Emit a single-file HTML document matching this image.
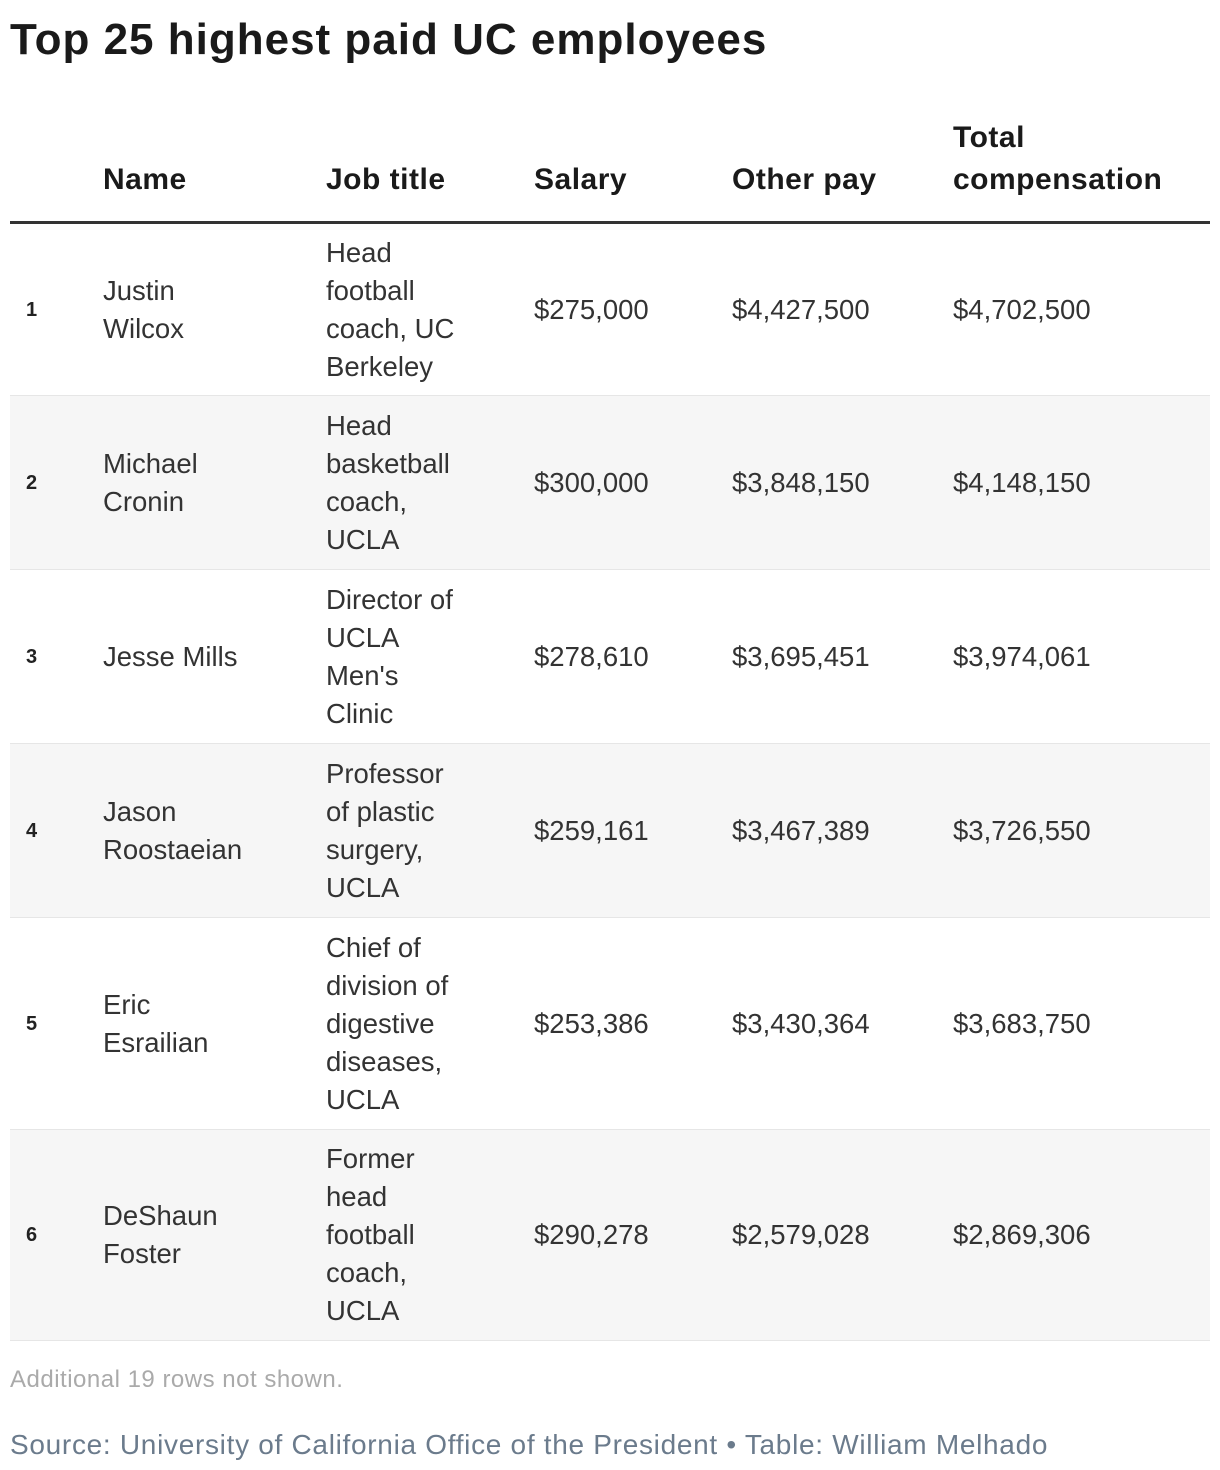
<!DOCTYPE html>
<html><head><meta charset="utf-8"><style>
body{margin:0;background:#fff;width:1220px;height:1470px;overflow:hidden;font-family:"Liberation Sans",sans-serif;color:#222;}
h1{position:absolute;left:10px;top:15px;margin:0;font-size:44px;font-weight:bold;color:#1a1a1a;letter-spacing:1px}
table{position:absolute;left:10px;top:117px;width:1200px;border-collapse:collapse;table-layout:fixed}
th{font-size:30px;font-weight:bold;text-align:left;vertical-align:bottom;padding:0 0 20px 0;line-height:42px;color:#1a1a1a;border-bottom:3px solid #333;height:68px;letter-spacing:0.5px}
td{font-size:27.5px;line-height:38px;vertical-align:middle;padding:0;color:#333;border-bottom:1px solid #e6e6e6}
td.r{font-weight:bold;font-size:20px;padding-left:16px;color:#222}
tr.g td{background:#f6f6f6}
.f1{position:absolute;left:10px;top:1366px;font-size:24px;color:#aaa;letter-spacing:0.5px}
.f2{position:absolute;left:10px;top:1429px;font-size:28px;color:#6b7b8c;letter-spacing:0.7px}
</style></head><body>
<h1>Top 25 highest paid UC employees</h1>
<table>
<colgroup><col style="width:93px"><col style="width:223px"><col style="width:208px"><col style="width:198px"><col style="width:221px"><col style="width:257px"></colgroup>
<tr><th></th><th>Name</th><th>Job title</th><th>Salary</th><th>Other pay</th><th>Total<br>compensation</th></tr>
<tr style="height:173px"><td class="r">1</td><td>Justin<br>Wilcox</td><td>Head<br>football<br>coach, UC<br>Berkeley</td><td>$275,000</td><td>$4,427,500</td><td>$4,702,500</td></tr>
<tr class="g" style="height:174px"><td class="r">2</td><td>Michael<br>Cronin</td><td>Head<br>basketball<br>coach,<br>UCLA</td><td>$300,000</td><td>$3,848,150</td><td>$4,148,150</td></tr>
<tr style="height:174px"><td class="r">3</td><td>Jesse Mills</td><td>Director of<br>UCLA<br>Men's<br>Clinic</td><td>$278,610</td><td>$3,695,451</td><td>$3,974,061</td></tr>
<tr class="g" style="height:174px"><td class="r">4</td><td>Jason<br>Roostaeian</td><td>Professor<br>of plastic<br>surgery,<br>UCLA</td><td>$259,161</td><td>$3,467,389</td><td>$3,726,550</td></tr>
<tr style="height:212px"><td class="r">5</td><td>Eric<br>Esrailian</td><td>Chief of<br>division of<br>digestive<br>diseases,<br>UCLA</td><td>$253,386</td><td>$3,430,364</td><td>$3,683,750</td></tr>
<tr class="g" style="height:211px"><td class="r">6</td><td>DeShaun<br>Foster</td><td>Former<br>head<br>football<br>coach,<br>UCLA</td><td>$290,278</td><td>$2,579,028</td><td>$2,869,306</td></tr>
</table>
<div class="f1">Additional 19 rows not shown.</div>
<div class="f2">Source: University of California Office of the President • Table: William Melhado</div>
</body></html>
